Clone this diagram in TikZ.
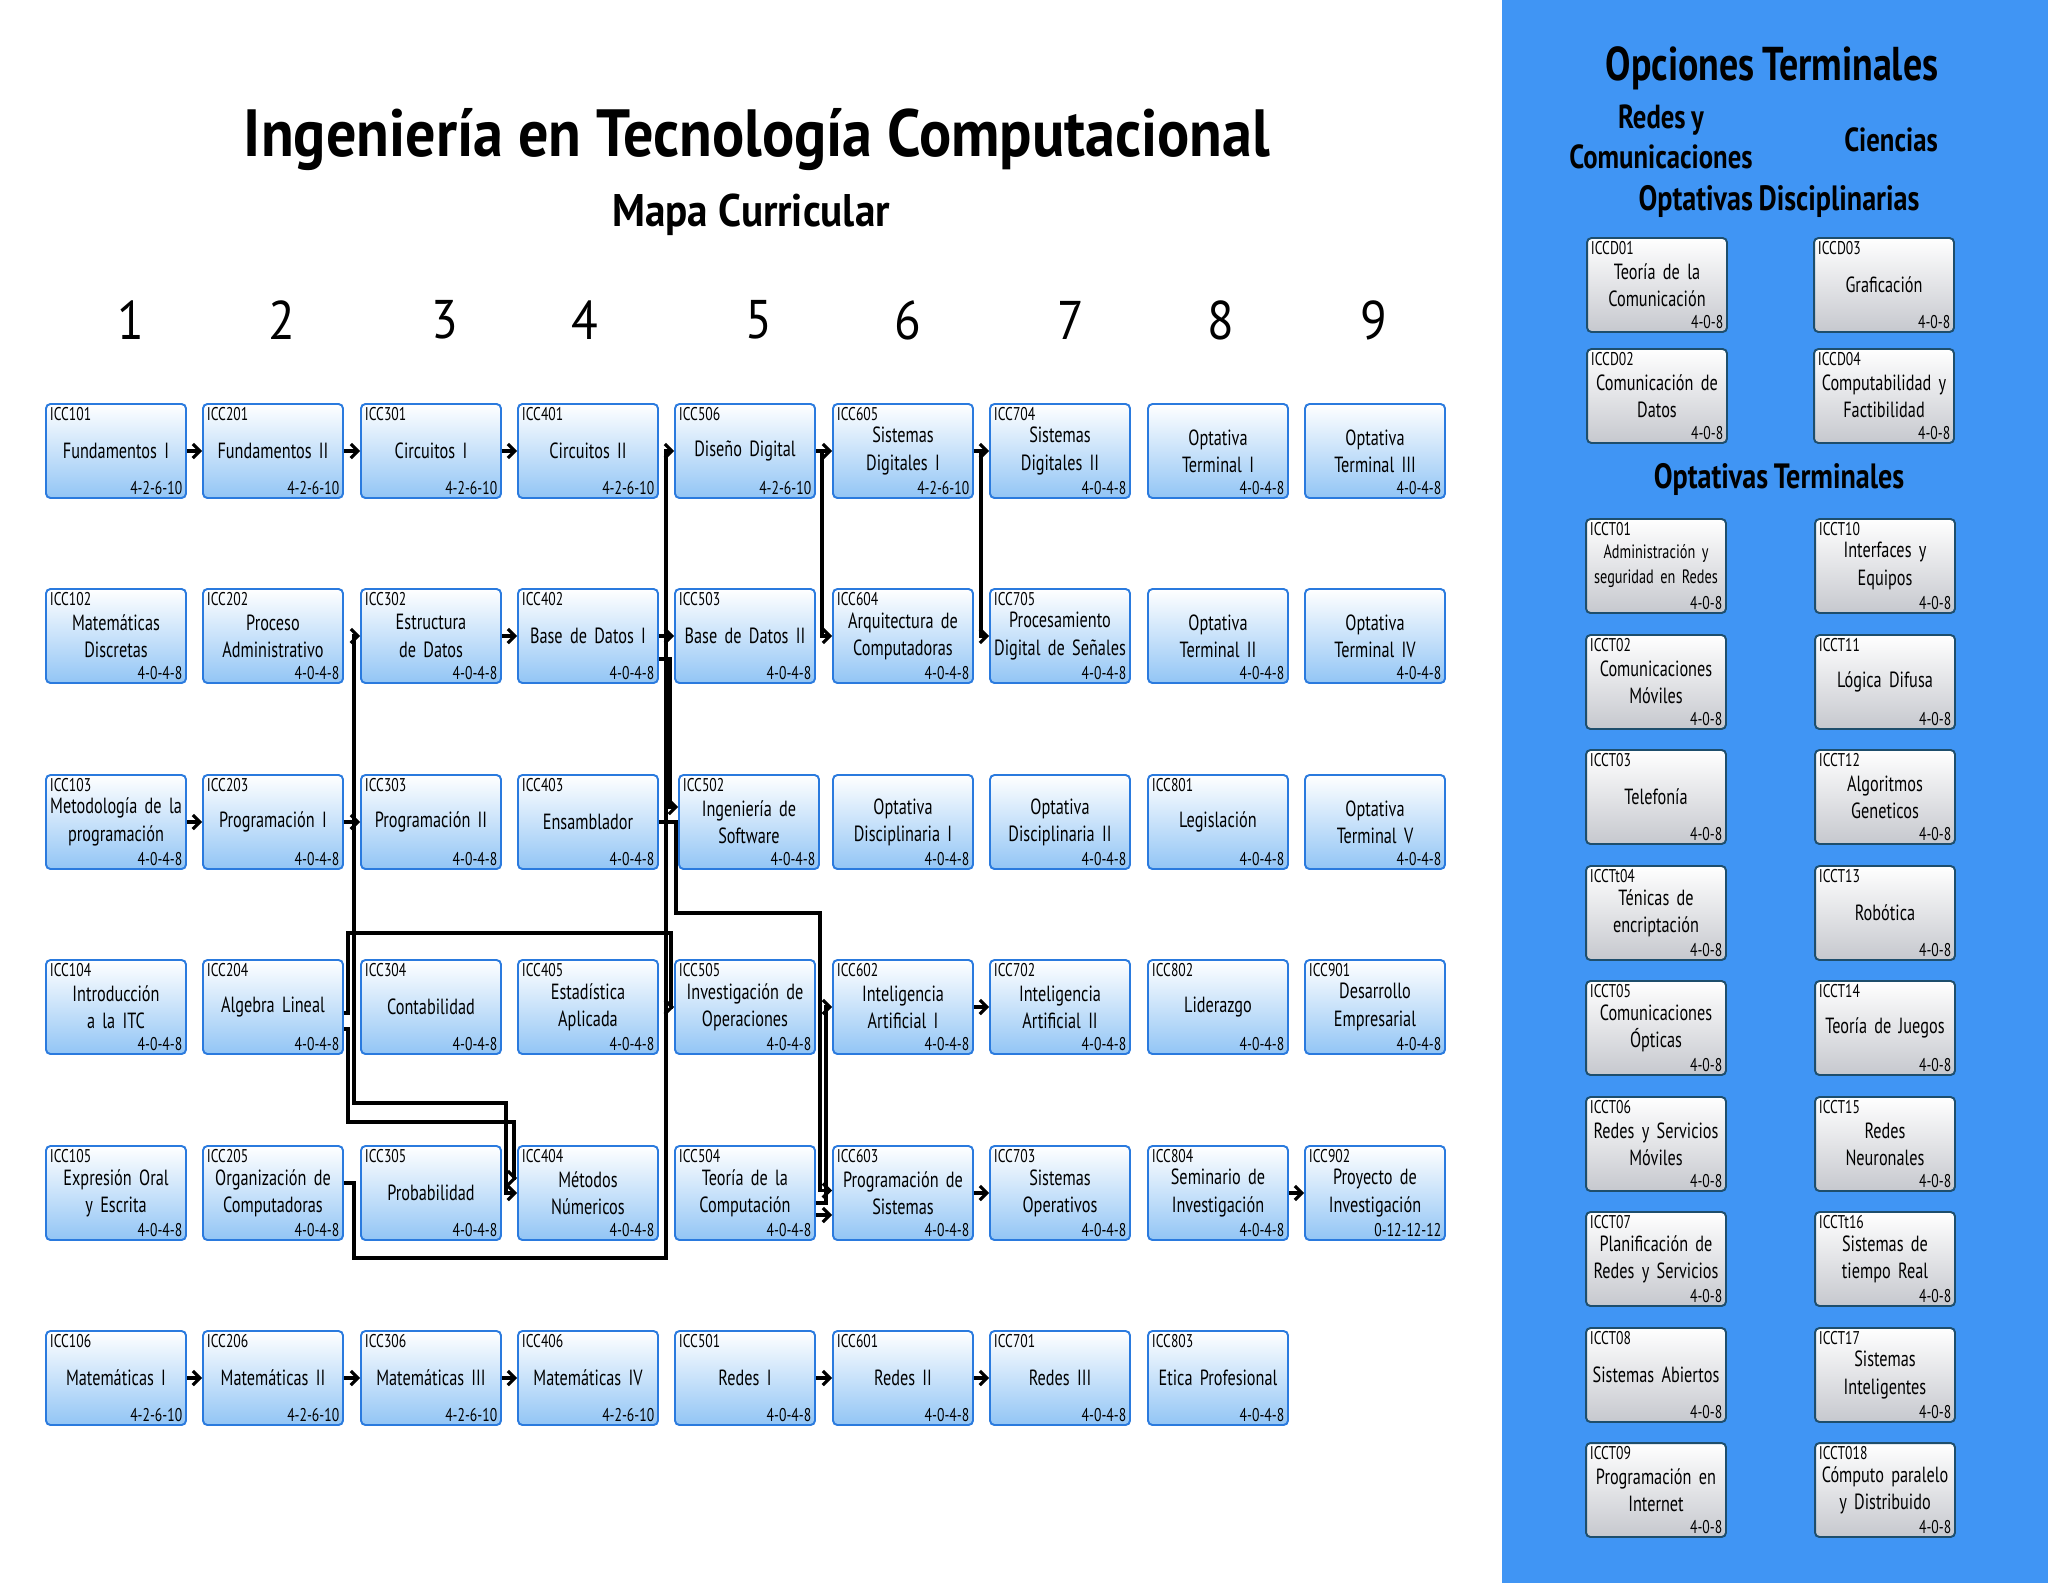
\documentclass[tikz,border=0pt]{standalone}
\usepackage{fontspec}
\setmainfont{PT Sans}
\newfontfamily\boxfont[FakeStretch=0.74]{PT Sans}
\newfontfamily\headfont[FakeStretch=0.8, WordSpace=0.8]{PT Sans}
\newfontfamily\titlefont[FakeStretch=0.9]{PT Sans}
\newcommand\boxtext{\boxfont\fontsize{12.5}{15.5}\selectfont\spaceskip=0.17em plus 0.05em\relax}
\newcommand\smallboxtext{\boxfont\fontsize{11}{14}\selectfont\spaceskip=0.15em plus 0.05em\relax}
\usetikzlibrary{arrows.meta}
\definecolor{panelblue}{RGB}{64,149,244}
\definecolor{boxline}{RGB}{42,122,222}
\definecolor{boxfill}{RGB}{146,197,245}
\definecolor{optline}{RGB}{30,78,108}
\definecolor{optfill}{RGB}{198,200,206}

\begin{document}
\begin{tikzpicture}[x=0.02cm, y=-0.02cm,
    code/.style={anchor=north west, inner sep=2.5pt, font=\boxfont\fontsize{10.5}{11}\selectfont},
    cred/.style={anchor=south east, inner sep=2.5pt, font=\boxfont\fontsize{10.5}{11}\selectfont},
    box/.style={draw=boxline, line width=1.1pt, rounded corners=2.5pt,
        top color=white, bottom color=boxfill,
        minimum width=2.8cm, minimum height=1.88cm, text width=2.76cm,
        align=center, inner sep=0.5pt, font=\boxtext,
        label={[cred]south east:#1}},
    course/.style 2 args={box=#2, label={[code]north west:#1}},
    optbox/.style 2 args={course={#1}{#2}, draw=optline, bottom color=optfill},
    head/.style={align=center, font=\headfont\bfseries\fontsize{19}{23}\selectfont},
    num/.style={font=\titlefont\fontsize{31}{31}\selectfont},
    arr/.style={-{Straight Barb[length=4pt,width=8pt]}, line width=1.8pt}
]
  \useasboundingbox (0,0) rectangle (2048,1583);
  \fill[panelblue] (1502,0) rectangle (2048,1583);

  % 标题
  \node[font=\titlefont\bfseries\fontsize{38}{40}\selectfont] (title) at (757,140) {Ingeniería en Tecnología Computacional};
  \node[font=\titlefont\bfseries\fontsize{26}{28}\selectfont] (subtitle) at (751,215) {Mapa Curricular};

  % 学期编号
  \node[num] (n1) at (131,320) {1};
  \node[num] (n2) at (282,320) {2};
  \node[num] (n3) at (445,320) {3};
  \node[num] (n4) at (585,320) {4};
  \node[num] (n5) at (759,320) {5};
  \node[num] (n6) at (908,320) {6};
  \node[num] (n7) at (1071,320) {7};
  \node[num] (n8) at (1221,320) {8};
  \node[num] (n9) at (1374,320) {9};

  % 定义课程节点
  \node[course={ICC101}{4-2-6-10}] (c101) at (116,451) {Fundamentos I};
  \node[course={ICC201}{4-2-6-10}] (c201) at (273,451) {Fundamentos II};
  \node[course={ICC301}{4-2-6-10}] (c301) at (431,451) {Circuitos I};
  \node[course={ICC401}{4-2-6-10}] (c401) at (588,451) {Circuitos II};
  \node[course={ICC506}{4-2-6-10}] (c506) at (745,451) {Diseño Digital};
  \node[course={ICC605}{4-2-6-10}] (c605) at (903,451) {Sistemas\\Digitales I};
  \node[course={ICC704}{4-0-4-8}] (c704) at (1060,451) {Sistemas\\Digitales II};
  \node[box=4-0-4-8] (ot1) at (1218,451) {Optativa\\Terminal I};
  \node[box=4-0-4-8] (ot3) at (1375,451) {Optativa\\Terminal III};

  \node[course={ICC102}{4-0-4-8}] (c102) at (116,636) {Matemáticas\\Discretas};
  \node[course={ICC202}{4-0-4-8}] (c202) at (273,636) {Proceso\\Administrativo};
  \node[course={ICC302}{4-0-4-8}] (c302) at (431,636) {Estructura\\de Datos};
  \node[course={ICC402}{4-0-4-8}] (c402) at (588,636) {Base de Datos I};
  \node[course={ICC503}{4-0-4-8}] (c503) at (745,636) {Base de Datos II};
  \node[course={ICC604}{4-0-4-8}] (c604) at (903,636) {Arquitectura de\\Computadoras};
  \node[course={ICC705}{4-0-4-8}] (c705) at (1060,636) {Procesamiento\\Digital de Señales};
  \node[box=4-0-4-8] (ot2) at (1218,636) {Optativa\\Terminal II};
  \node[box=4-0-4-8] (ot4) at (1375,636) {Optativa\\Terminal IV};

  \node[course={ICC103}{4-0-4-8}] (c103) at (116,822) {Metodología de la\\programación};
  \node[course={ICC203}{4-0-4-8}] (c203) at (273,822) {Programación I};
  \node[course={ICC303}{4-0-4-8}] (c303) at (431,822) {Programación II};
  \node[course={ICC403}{4-0-4-8}] (c403) at (588,822) {Ensamblador};
  \node[course={ICC502}{4-0-4-8}] (c502) at (749,822) {Ingeniería de\\Software};
  \node[box=4-0-4-8] (od1) at (903,822) {Optativa\\Disciplinaria I};
  \node[box=4-0-4-8] (od2) at (1060,822) {Optativa\\Disciplinaria II};
  \node[course={ICC801}{4-0-4-8}] (c801) at (1218,822) {Legislación};
  \node[box=4-0-4-8] (ot5) at (1375,822) {Optativa\\Terminal V};

  \node[course={ICC104}{4-0-4-8}] (c104) at (116,1007) {Introducción\\a la ITC};
  \node[course={ICC204}{4-0-4-8}] (c204) at (273,1007) {Algebra Lineal};
  \node[course={ICC304}{4-0-4-8}] (c304) at (431,1007) {Contabilidad};
  \node[course={ICC405}{4-0-4-8}] (c405) at (588,1007) {Estadística\\Aplicada};
  \node[course={ICC505}{4-0-4-8}] (c505) at (745,1007) {Investigación de\\Operaciones};
  \node[course={ICC602}{4-0-4-8}] (c602) at (903,1007) {Inteligencia\\Artificial I};
  \node[course={ICC702}{4-0-4-8}] (c702) at (1060,1007) {Inteligencia\\Artificial II};
  \node[course={ICC802}{4-0-4-8}] (c802) at (1218,1007) {Liderazgo};
  \node[course={ICC901}{4-0-4-8}] (c901) at (1375,1007) {Desarrollo\\Empresarial};

  \node[course={ICC105}{4-0-4-8}] (c105) at (116,1193) {Expresión Oral\\y Escrita};
  \node[course={ICC205}{4-0-4-8}] (c205) at (273,1193) {Organización de\\Computadoras};
  \node[course={ICC305}{4-0-4-8}] (c305) at (431,1193) {Probabilidad};
  \node[course={ICC404}{4-0-4-8}] (c404) at (588,1193) {Métodos\\Númericos};
  \node[course={ICC504}{4-0-4-8}] (c504) at (745,1193) {Teoría de la\\Computación};
  \node[course={ICC603}{4-0-4-8}] (c603) at (903,1193) {Programación de\\Sistemas};
  \node[course={ICC703}{4-0-4-8}] (c703) at (1060,1193) {Sistemas\\Operativos};
  \node[course={ICC804}{4-0-4-8}] (c804) at (1218,1193) {Seminario de\\Investigación};
  \node[course={ICC902}{0-12-12-12}] (c902) at (1375,1193) {Proyecto de\\Investigación};

  \node[course={ICC106}{4-2-6-10}] (c106) at (116,1378) {Matemáticas I};
  \node[course={ICC206}{4-2-6-10}] (c206) at (273,1378) {Matemáticas II};
  \node[course={ICC306}{4-2-6-10}] (c306) at (431,1378) {Matemáticas III};
  \node[course={ICC406}{4-2-6-10}] (c406) at (588,1378) {Matemáticas IV};
  \node[course={ICC501}{4-0-4-8}] (c501) at (745,1378) {Redes I};
  \node[course={ICC601}{4-0-4-8}] (c601) at (903,1378) {Redes II};
  \node[course={ICC701}{4-0-4-8}] (c701) at (1060,1378) {Redes III};
  \node[course={ICC803}{4-0-4-8}] (c803) at (1218,1378) {Etica Profesional};

  % 直接连接
  \draw[arr] (c101) -- (c201);
  \draw[arr] (c201) -- (c301);
  \draw[arr] (c301) -- (c401);
  \draw[arr] (c506) -- (c605);
  \draw[arr] (c605) -- (c704);
  \draw[arr] (c302) -- (c402);
  \draw[arr] (c402) -- (c503);
  \draw[arr] (c103) -- (c203);
  \draw[arr] (c203) -- (c303);
  \draw[arr] (c602) -- (c702);
  \draw[arr] (c603) -- (c703);
  \draw[arr] (c804) -- (c902);
  \draw[arr] (c106) -- (c206);
  \draw[arr] (c206) -- (c306);
  \draw[arr] (c306) -- (c406);
  \draw[arr] (c501) -- (c601);
  \draw[arr] (c601) -- (c701);
  \draw[arr] ([yshift=-0.44cm]c504.east) -- ([yshift=-0.44cm]c603.west);

  % 折线连接
  \draw[arr] (c506.east) -- ++(6,0) |- (c604.west);
  \draw[arr] (c605.east) -- ++(7,0) |- (c705.west);
  \draw[arr] (c203.east) -- ++(10,0) |- (c302.west);
  \draw[arr] (c203.east) -- ++(10,0) -- ++(0,281) -- ++(152,0) |- (c404.west);
  \draw[arr] ([yshift=-0.44cm]c204.east) -- ++(4,0) -- ++(0,93) -- ++(166,0) |- ([yshift=0.3cm]c404.west);
  \draw[arr] ([yshift=-0.12cm]c204.east) -- ++(4,0) -- ++(0,-80) -- ++(323,0) |- (c505.west);
  \draw[arr] ([yshift=0.2cm]c205.east) -- ++(10,0) -- ++(0,75) -- ++(312,0) |- (c506.west);
  \draw[arr] ([yshift=-0.46cm]c402.east) -- ++(11,0) |- ([yshift=0.3cm]c502.west);
  \draw[arr] (c403.east) -- ++(17,0) -- ++(0,91) -- ++(144,0) |- ([yshift=0.05cm]c603.west);
  \draw[arr] ([yshift=-0.2cm]c504.east) -- ++(10,0) |- (c602.west);

  % 右侧面板
  \node[head, font=\headfont\bfseries\fontsize{27}{29}\selectfont] (opc) at (1772,68) {Opciones Terminales};
  \node[head] (redes) at (1661,137) {Redes y\\Comunicaciones};
  \node[head] (cien) at (1891,140) {Ciencias};
  \node[head, font=\headfont\bfseries\fontsize{20}{23}\selectfont] (odis) at (1779,201) {Optativas Disciplinarias};
  \node[head, font=\headfont\bfseries\fontsize{20}{23}\selectfont] (oter) at (1779,479) {Optativas Terminales};

  \node[optbox={ICCD01}{4-0-8}] (d01) at (1657,285) {Teoría de la\\Comunicación};
  \node[optbox={ICCD03}{4-0-8}] (d03) at (1884,285) {Graficación};
  \node[optbox={ICCD02}{4-0-8}] (d02) at (1657,396) {Comunicación de\\Datos};
  \node[optbox={ICCD04}{4-0-8}] (d04) at (1884,396) {Computabilidad y\\Factibilidad};

  \node[optbox={ICCT01}{4-0-8}, font=\smallboxtext] (t01) at (1656,566) {Administración y\\seguridad en Redes};
  \node[optbox={ICCT02}{4-0-8}] (t02) at (1656,682) {Comunicaciones\\Móviles};
  \node[optbox={ICCT03}{4-0-8}] (t03) at (1656,797) {Telefonía};
  \node[optbox={ICCTt04}{4-0-8}] (t04) at (1656,913) {Ténicas de\\encriptación};
  \node[optbox={ICCT05}{4-0-8}] (t05) at (1656,1028) {Comunicaciones\\Ópticas};
  \node[optbox={ICCT06}{4-0-8}] (t06) at (1656,1144) {Redes y Servicios\\Móviles};
  \node[optbox={ICCT07}{4-0-8}] (t07) at (1656,1259) {Planificación de\\Redes y Servicios};
  \node[optbox={ICCT08}{4-0-8}] (t08) at (1656,1375) {Sistemas Abiertos};
  \node[optbox={ICCT09}{4-0-8}] (t09) at (1656,1490) {Programación en\\Internet};

  \node[optbox={ICCT10}{4-0-8}] (t10) at (1885,566) {Interfaces y\\Equipos};
  \node[optbox={ICCT11}{4-0-8}] (t11) at (1885,682) {Lógica Difusa};
  \node[optbox={ICCT12}{4-0-8}] (t12) at (1885,797) {Algoritmos\\Geneticos};
  \node[optbox={ICCT13}{4-0-8}] (t13) at (1885,913) {Robótica};
  \node[optbox={ICCT14}{4-0-8}] (t14) at (1885,1028) {Teoría de Juegos};
  \node[optbox={ICCT15}{4-0-8}] (t15) at (1885,1144) {Redes\\Neuronales};
  \node[optbox={ICCTt16}{4-0-8}] (t16) at (1885,1259) {Sistemas de\\tiempo Real};
  \node[optbox={ICCT17}{4-0-8}] (t17) at (1885,1375) {Sistemas\\Inteligentes};
  \node[optbox={ICCT018}{4-0-8}] (t18) at (1885,1490) {Cómputo paralelo\\y Distribuido};
\end{tikzpicture}
\end{document}
